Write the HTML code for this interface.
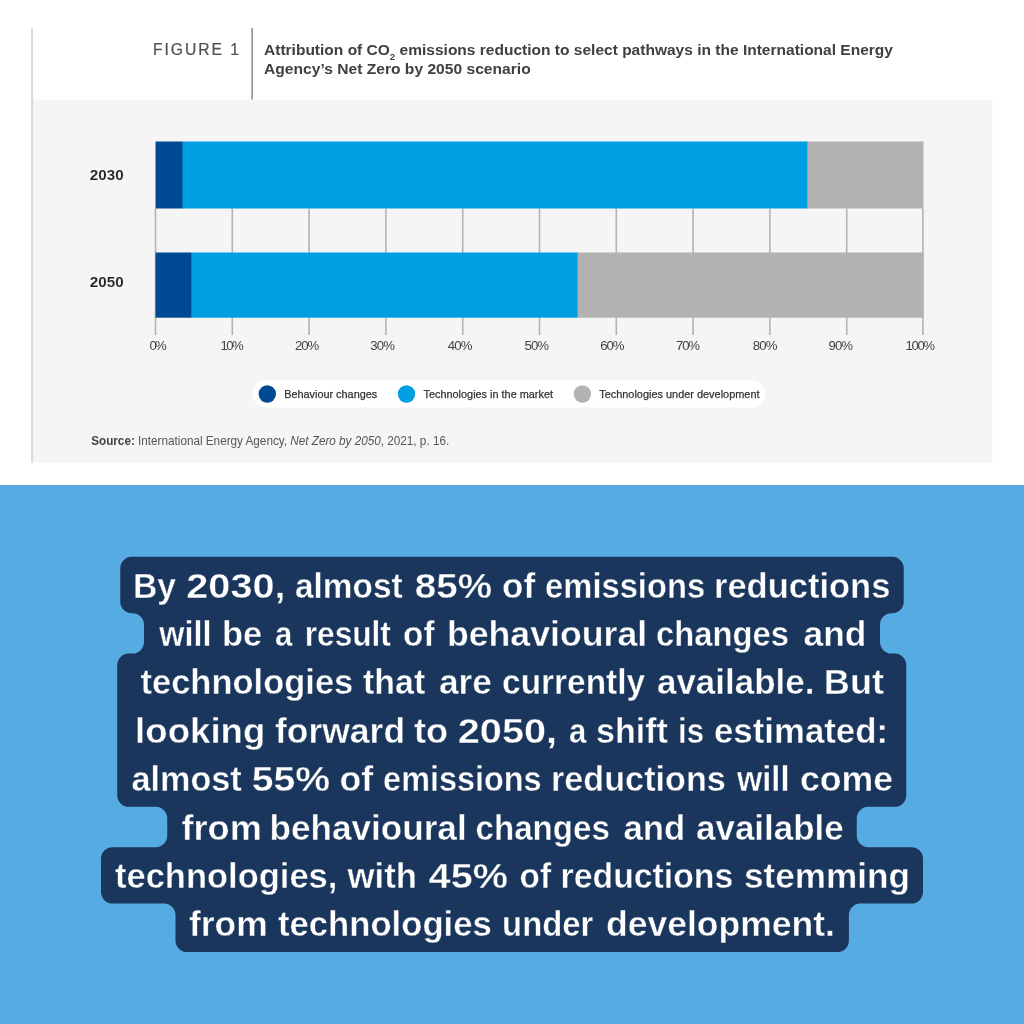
<!DOCTYPE html>
<html lang="en"><head><meta charset="utf-8"><title>Figure 1 – Net Zero by 2050</title>
<style>
html,body{margin:0;padding:0;background:#fff;}
body{width:1024px;height:1024px;overflow:hidden;position:relative;font-family:"Liberation Sans",Arial,sans-serif;}
svg{position:absolute;left:0;top:0;display:block;}
text{font-family:"Liberation Sans",Arial,sans-serif;}
.big text{font-weight:bold;font-size:34.5px;fill:#fff;stroke:#1b365d;stroke-width:0.4px;}
.ticks text{font-size:13.2px;fill:#444;}
.leg text{font-size:11.8px;fill:#333;stroke:#333;stroke-width:0.25px;}
</style></head><body>
<svg width="1024" height="1024" viewBox="0 0 1024 1024">
<rect x="0" y="0" width="1024" height="485" fill="#ffffff"/>
<rect x="0" y="485" width="1024" height="539" fill="#56abe2"/>
<!-- chart panel -->
<rect x="32" y="99.5" width="960.3" height="363" fill="#f5f5f5"/>
<rect x="31.1" y="28.2" width="2" height="434.5" fill="#d8d8dd"/>
<rect x="251.3" y="28" width="1.7" height="71.5" fill="#979797"/>
<text x="153" y="55.3" font-size="15.7" letter-spacing="1.95" fill="#505050" stroke="#505050" stroke-width="0.2">FIGURE 1</text>
<g font-weight="bold" font-size="15.3" fill="#404040">
<text x="264" y="55.4" textLength="629" lengthAdjust="spacingAndGlyphs">Attribution of CO<tspan font-size="9.5" dy="4.2" stroke="none">2</tspan><tspan dy="-4.2"> emissions reduction to select pathways in the International Energy</tspan></text>
<text x="264" y="74.3" textLength="266.7" lengthAdjust="spacingAndGlyphs">Agency’s Net Zero by 2050 scenario</text>
</g>
<!-- gridlines -->
<g stroke="#b3b3b3" stroke-width="1.6"><line x1="155.50" y1="208.5" x2="155.50" y2="335"/><line x1="232.30" y1="208.5" x2="232.30" y2="335"/><line x1="309.10" y1="208.5" x2="309.10" y2="335"/><line x1="385.90" y1="208.5" x2="385.90" y2="335"/><line x1="462.70" y1="208.5" x2="462.70" y2="335"/><line x1="539.50" y1="208.5" x2="539.50" y2="335"/><line x1="616.30" y1="208.5" x2="616.30" y2="335"/><line x1="693.10" y1="208.5" x2="693.10" y2="335"/><line x1="769.90" y1="208.5" x2="769.90" y2="335"/><line x1="846.70" y1="208.5" x2="846.70" y2="335"/><line x1="922.90" y1="208.5" x2="922.90" y2="335"/></g>
<!-- bars -->
<rect x="182" y="141.5" width="626" height="67" fill="#009fe3"/>
<rect x="155.5" y="141.5" width="27" height="67" fill="#004a93"/>
<rect x="807.3" y="141.5" width="116.2" height="67" fill="#b2b2b2"/>
<rect x="191" y="252.5" width="387" height="65.2" fill="#009fe3"/>
<rect x="155.5" y="252.5" width="35.8" height="65.2" fill="#004a93"/>
<rect x="577.5" y="252.5" width="346" height="65.2" fill="#b2b2b2"/>
<g font-weight="bold" font-size="15.2" fill="#222222" stroke="#f5f5f5" stroke-width="0.12"><text x="89.8" y="180.4">2030</text><text x="89.8" y="287.4">2050</text></g>
<g class="ticks"><text x="149.50" y="349.8" letter-spacing="-1.72">0%</text><text x="220.50" y="349.8" letter-spacing="-1.53">10%</text><text x="295.00" y="349.8" letter-spacing="-1.03">20%</text><text x="370.25" y="349.8" letter-spacing="-0.78">30%</text><text x="447.75" y="349.8" letter-spacing="-0.78">40%</text><text x="524.50" y="349.8" letter-spacing="-0.91">50%</text><text x="600.25" y="349.8" letter-spacing="-1.03">60%</text><text x="676.00" y="349.8" letter-spacing="-1.16">70%</text><text x="752.75" y="349.8" letter-spacing="-0.78">80%</text><text x="828.50" y="349.8" letter-spacing="-0.91">90%</text><text x="905.50" y="349.8" letter-spacing="-1.38">100%</text></g>
<!-- legend -->
<rect x="252.5" y="380" width="512.5" height="27.6" rx="13.8" fill="#ffffff"/>
<circle cx="267.3" cy="394" r="8.7" fill="#004a93"/>
<circle cx="406.5" cy="394" r="8.7" fill="#009fe3"/>
<circle cx="582.4" cy="394" r="8.7" fill="#b2b2b2"/>
<g class="leg">
<text x="284.2" y="398.3" textLength="93" lengthAdjust="spacingAndGlyphs">Behaviour changes</text>
<text x="423.5" y="398.3" textLength="129.5" lengthAdjust="spacingAndGlyphs">Technologies in the market</text>
<text x="599.2" y="398.3" textLength="160.3" lengthAdjust="spacingAndGlyphs">Technologies under development</text>
</g>
<text x="91.2" y="445.3" font-size="12.6" fill="#555" textLength="358" lengthAdjust="spacingAndGlyphs"><tspan font-weight="bold" fill="#444">Source:</tspan> International Energy Agency, <tspan font-style="italic">Net Zero by 2050</tspan>, 2021, p. 16.</text>
<!-- blob -->
<path d="M892.25 556.80A11.50 11.50 0 0 1 903.75 568.30L903.75 601.70A11.50 11.50 0 0 1 892.25 613.20L891.50 613.20A11.50 11.50 0 0 0 880.00 624.70L880.00 642.10A11.50 11.50 0 0 0 891.50 653.60L894.75 653.60A11.50 11.50 0 0 1 906.25 665.10L906.25 795.30A11.50 11.50 0 0 1 894.75 806.80L868.25 806.80A11.50 11.50 0 0 0 856.75 818.30L856.75 835.70A11.50 11.50 0 0 0 868.25 847.20L911.50 847.20A11.50 11.50 0 0 1 923.00 858.70L923.00 892.10A11.50 11.50 0 0 1 911.50 903.60L860.40 903.60A11.50 11.50 0 0 0 848.90 915.10L848.90 940.50A11.50 11.50 0 0 1 837.40 952.00L187.00 952.00A11.50 11.50 0 0 1 175.50 940.50L175.50 915.10A11.50 11.50 0 0 0 164.00 903.60L112.50 903.60A11.50 11.50 0 0 1 101.00 892.10L101.00 858.70A11.50 11.50 0 0 1 112.50 847.20L155.75 847.20A11.50 11.50 0 0 0 167.25 835.70L167.25 818.30A11.50 11.50 0 0 0 155.75 806.80L128.75 806.80A11.50 11.50 0 0 1 117.25 795.30L117.25 665.10A11.50 11.50 0 0 1 128.75 653.60L132.50 653.60A11.50 11.50 0 0 0 144.00 642.10L144.00 624.70A11.50 11.50 0 0 0 132.50 613.20L131.75 613.20A11.50 11.50 0 0 1 120.25 601.70L120.25 568.30A11.50 11.50 0 0 1 131.75 556.80Z" fill="#1b365d"/>
<g class="big">
<text y="597.50"><tspan x="133.07" textLength="43.00" lengthAdjust="spacingAndGlyphs">By</tspan> <tspan x="186.30" textLength="99.28" lengthAdjust="spacingAndGlyphs">2030,</tspan> <tspan x="295.03" textLength="107.66" lengthAdjust="spacingAndGlyphs">almost</tspan> <tspan x="414.88" textLength="77.30" lengthAdjust="spacingAndGlyphs">85%</tspan> <tspan x="501.97" textLength="33.11" lengthAdjust="spacingAndGlyphs">of</tspan> <tspan x="545.10" textLength="160.05" lengthAdjust="spacingAndGlyphs">emissions</tspan> <tspan x="714.00" textLength="176.36" lengthAdjust="spacingAndGlyphs">reductions</tspan></text>
<text y="645.90"><tspan x="159.30" textLength="52.13" lengthAdjust="spacingAndGlyphs">will</tspan> <tspan x="222.00" textLength="40.26" lengthAdjust="spacingAndGlyphs">be</tspan> <tspan x="275.00" textLength="17.27" lengthAdjust="spacingAndGlyphs">a</tspan> <tspan x="304.75" textLength="86.12" lengthAdjust="spacingAndGlyphs">result</tspan> <tspan x="403.07" textLength="31.48" lengthAdjust="spacingAndGlyphs">of</tspan> <tspan x="446.90" textLength="200.34" lengthAdjust="spacingAndGlyphs">behavioural</tspan> <tspan x="656.10" textLength="132.77" lengthAdjust="spacingAndGlyphs">changes</tspan> <tspan x="803.47" textLength="62.92" lengthAdjust="spacingAndGlyphs">and</tspan></text>
<text y="694.30"><tspan x="140.50" textLength="212.78" lengthAdjust="spacingAndGlyphs">technologies</tspan> <tspan x="363.02" textLength="62.22" lengthAdjust="spacingAndGlyphs">that</tspan> <tspan x="438.98" textLength="52.86" lengthAdjust="spacingAndGlyphs">are</tspan> <tspan x="502.06" textLength="143.05" lengthAdjust="spacingAndGlyphs">currently</tspan> <tspan x="656.99" textLength="157.40" lengthAdjust="spacingAndGlyphs">available.</tspan> <tspan x="823.86" textLength="60.14" lengthAdjust="spacingAndGlyphs">But</tspan></text>
<text y="742.70"><tspan x="135.12" textLength="130.20" lengthAdjust="spacingAndGlyphs">looking</tspan> <tspan x="274.97" textLength="130.11" lengthAdjust="spacingAndGlyphs">forward</tspan> <tspan x="413.95" textLength="34.19" lengthAdjust="spacingAndGlyphs">to</tspan> <tspan x="457.80" textLength="99.28" lengthAdjust="spacingAndGlyphs">2050,</tspan> <tspan x="569.00" textLength="17.27" lengthAdjust="spacingAndGlyphs">a</tspan> <tspan x="596.03" textLength="71.78" lengthAdjust="spacingAndGlyphs">shift</tspan> <tspan x="678.00" textLength="25.90" lengthAdjust="spacingAndGlyphs">is</tspan> <tspan x="713.98" textLength="174.10" lengthAdjust="spacingAndGlyphs">estimated:</tspan></text>
<text y="791.10"><tspan x="131.51" textLength="110.19" lengthAdjust="spacingAndGlyphs">almost</tspan> <tspan x="251.73" textLength="78.47" lengthAdjust="spacingAndGlyphs">55%</tspan> <tspan x="339.43" textLength="33.65" lengthAdjust="spacingAndGlyphs">of</tspan> <tspan x="383.12" textLength="158.52" lengthAdjust="spacingAndGlyphs">emissions</tspan> <tspan x="551.03" textLength="174.82" lengthAdjust="spacingAndGlyphs">reductions</tspan> <tspan x="737.00" textLength="52.44" lengthAdjust="spacingAndGlyphs">will</tspan> <tspan x="799.93" textLength="93.23" lengthAdjust="spacingAndGlyphs">come</tspan></text>
<text y="839.50"><tspan x="181.45" textLength="80.34" lengthAdjust="spacingAndGlyphs">from</tspan> <tspan x="269.44" textLength="197.25" lengthAdjust="spacingAndGlyphs">behavioural</tspan> <tspan x="475.58" textLength="134.31" lengthAdjust="spacingAndGlyphs">changes</tspan> <tspan x="623.49" textLength="61.86" lengthAdjust="spacingAndGlyphs">and</tspan> <tspan x="695.99" textLength="147.80" lengthAdjust="spacingAndGlyphs">available</tspan></text>
<text y="887.90"><tspan x="115.00" textLength="222.36" lengthAdjust="spacingAndGlyphs">technologies,</tspan> <tspan x="347.50" textLength="69.50" lengthAdjust="spacingAndGlyphs">with</tspan> <tspan x="428.58" textLength="79.41" lengthAdjust="spacingAndGlyphs">45%</tspan> <tspan x="519.57" textLength="31.48" lengthAdjust="spacingAndGlyphs">of</tspan> <tspan x="560.56" textLength="172.77" lengthAdjust="spacingAndGlyphs">reductions</tspan> <tspan x="743.96" textLength="166.04" lengthAdjust="spacingAndGlyphs">stemming</tspan></text>
<text y="936.30"><tspan x="188.97" textLength="78.77" lengthAdjust="spacingAndGlyphs">from</tspan> <tspan x="278.00" textLength="213.79" lengthAdjust="spacingAndGlyphs">technologies</tspan> <tspan x="502.10" textLength="91.20" lengthAdjust="spacingAndGlyphs">under</tspan> <tspan x="605.94" textLength="229.01" lengthAdjust="spacingAndGlyphs">development.</tspan></text>
</g>
</svg>
</body></html>
